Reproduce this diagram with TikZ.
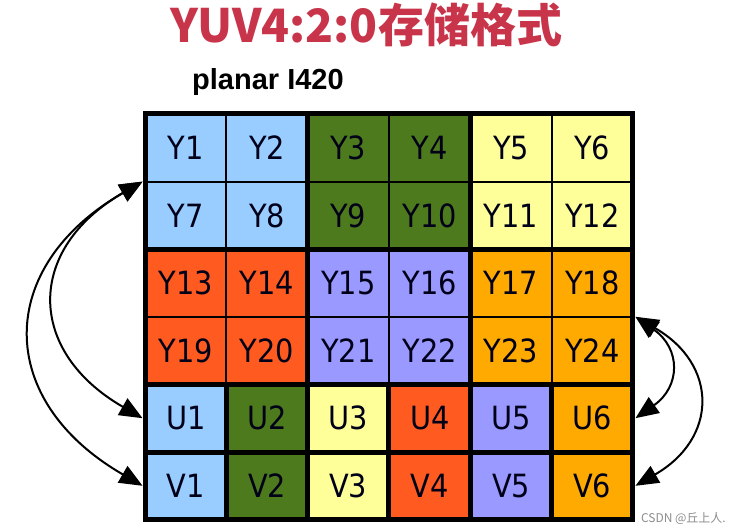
\documentclass[tikz,border=0pt]{standalone}
\usepackage{fontspec}
\setmainfont{DejaVu Sans Condensed}
\newfontfamily\cjkfont{Noto Sans CJK SC}
\newfontfamily\labelfont{Liberation Sans}
\usetikzlibrary{arrows.meta}
\definecolor{cellblue}{HTML}{99CCFF}
\definecolor{cellgreen}{HTML}{4C7A1C}
\definecolor{cellred}{HTML}{FF5A1F}
\definecolor{cellviolet}{HTML}{9999FF}
\definecolor{cellyellow}{HTML}{FFFF99}
\definecolor{cellorange}{HTML}{FFAA00}
\definecolor{titlered}{HTML}{C8354A}
\tikzset{
  cell/.style={draw=black, line width=2pt, minimum width=81.33pt, minimum height=67.6pt,
    inner sep=0pt, outer sep=0pt, font=\fontsize{32}{36}\selectfont, text=black!90!blue},
  bluecell/.style={cell, fill=cellblue},
  greencell/.style={cell, fill=cellgreen},
  redcell/.style={cell, fill=cellred},
  violetcell/.style={cell, fill=cellviolet},
  yellowcell/.style={cell, fill=cellyellow},
  orangecell/.style={cell, fill=cellorange},
  bold line/.style={line width=5pt},
  link/.style={line width=2pt, {Triangle[length=23pt,width=19pt]}-{Triangle[length=23pt,width=19pt]}}
}
\begin{document}
\begin{tikzpicture}[x=1pt,y=1pt]
      \useasboundingbox (0,0) rectangle (736,-529);
      \node[anchor=base, text=titlered, font=\cjkfont\bfseries\fontsize{46}{50}\selectfont] (title) at (366,-43) {YUV4:2:0存储格式};
      \node[anchor=base west, inner sep=0pt, font=\labelfont\bfseries\fontsize{29}{32}\selectfont] (sub) at (192,-90) {planar I420};
      \node[anchor=base east, inner sep=0pt, text=black!45, font=\cjkfont\fontsize{12}{14}\selectfont] (mark) at (726,-522) {CSDN @丘上人.};
      % Y plane
      \node[bluecell] (Y1) at (185.7,-147.8) {Y1};
      \node[bluecell] (Y2) at (267.0,-147.8) {Y2};
      \node[greencell] (Y3) at (348.3,-147.8) {Y3};
      \node[greencell] (Y4) at (429.7,-147.8) {Y4};
      \node[yellowcell] (Y5) at (511.0,-147.8) {Y5};
      \node[yellowcell] (Y6) at (592.3,-147.8) {Y6};
      \node[bluecell] (Y7) at (185.7,-215.4) {Y7};
      \node[bluecell] (Y8) at (267.0,-215.4) {Y8};
      \node[greencell] (Y9) at (348.3,-215.4) {Y9};
      \node[greencell] (Y10) at (429.7,-215.4) {Y10};
      \node[yellowcell] (Y11) at (511.0,-215.4) {Y11};
      \node[yellowcell] (Y12) at (592.3,-215.4) {Y12};
      \node[redcell] (Y13) at (185.7,-283.0) {Y13};
      \node[redcell] (Y14) at (267.0,-283.0) {Y14};
      \node[violetcell] (Y15) at (348.3,-283.0) {Y15};
      \node[violetcell] (Y16) at (429.7,-283.0) {Y16};
      \node[orangecell] (Y17) at (511.0,-283.0) {Y17};
      \node[orangecell] (Y18) at (592.3,-283.0) {Y18};
      \node[redcell] (Y19) at (185.7,-350.6) {Y19};
      \node[redcell] (Y20) at (267.0,-350.6) {Y20};
      \node[violetcell] (Y21) at (348.3,-350.6) {Y21};
      \node[violetcell] (Y22) at (429.7,-350.6) {Y22};
      \node[orangecell] (Y23) at (511.0,-350.6) {Y23};
      \node[orangecell] (Y24) at (592.3,-350.6) {Y24};
      % U plane
      \node[bluecell] (U1) at (185.7,-418.2) {U1};
      \node[greencell] (U2) at (267.0,-418.2) {U2};
      \node[yellowcell] (U3) at (348.3,-418.2) {U3};
      \node[redcell] (U4) at (429.7,-418.2) {U4};
      \node[violetcell] (U5) at (511.0,-418.2) {U5};
      \node[orangecell] (U6) at (592.3,-418.2) {U6};
      % V plane
      \node[bluecell] (V1) at (185.7,-485.8) {V1};
      \node[greencell] (V2) at (267.0,-485.8) {V2};
      \node[yellowcell] (V3) at (348.3,-485.8) {V3};
      \node[redcell] (V4) at (429.7,-485.8) {V4};
      \node[violetcell] (V5) at (511.0,-485.8) {V5};
      \node[orangecell] (V6) at (592.3,-485.8) {V6};
      \begin{scope}[bold line]
        \draw (Y1.north west) rectangle (V6.south east);
        \draw (Y2.north east) -- (V2.south east);
        \draw (Y4.north east) -- (V4.south east);
        \draw (U1.north east) -- (V1.south east);
        \draw (U3.north east) -- (V3.south east);
        \draw (U5.north east) -- (V5.south east);
        \draw (Y7.south west) -- (Y12.south east);
        \draw (Y19.south west) -- (Y24.south east);
        \draw (U1.south west) -- (U6.south east);
      \end{scope}
      \begin{scope}[link]
        \draw ([xshift=-2.5pt]Y7.north west) to[out=210, in=150, looseness=1.46] ([xshift=-2.5pt]U1.west);
        \draw ([xshift=-2.5pt]Y7.north west) to[out=210, in=150, looseness=1.44] ([xshift=-2.5pt]V1.west);
        \draw ([xshift=2.5pt]Y24.north east) to[out=-35, in=35, looseness=1.4] ([xshift=2.5pt]U6.east);
        \draw ([xshift=2.5pt]Y24.north east) to[out=-30, in=30, looseness=1.45] ([xshift=2.5pt]V6.east);
      \end{scope}
    \end{tikzpicture}
\end{document}
